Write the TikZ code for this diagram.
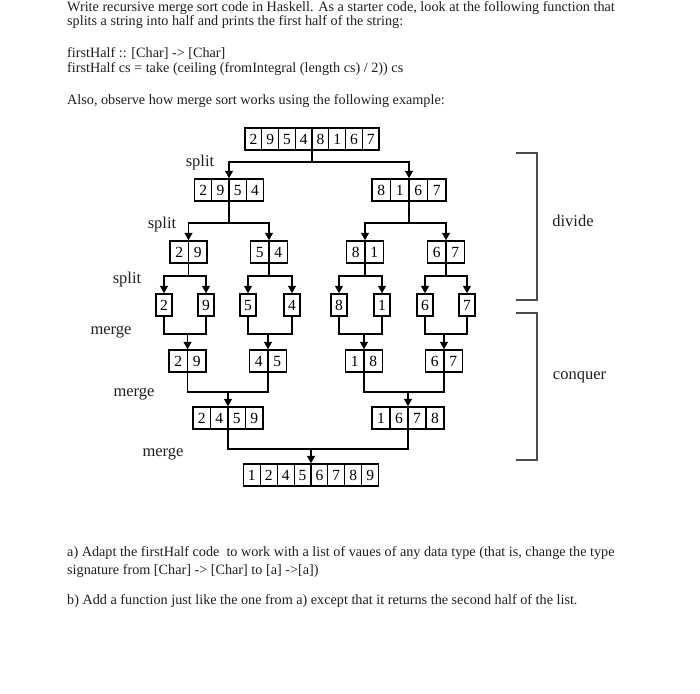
\documentclass[tikz,border=0pt]{standalone}
\usepackage{fontspec}
\setmainfont{Liberation Serif}
\usetikzlibrary{arrows.meta,fit}
\newcommand\lbox[6]{%
  \foreach \d [count=\i] in {#6}{%
    \node[cell, minimum width=#4pt] (#1-\i) at ({#2+(\i-(#5+1)/2)*#4},{#3+11}) {\d};
  }%
  \node[fit=(#1-1)(#1-#5), inner sep=0pt] (#1) {};
}
\begin{document}
\begin{tikzpicture}[x=1pt,y=-1pt,
  txt/.style={inner sep=0pt, anchor=base west, text=black!88, font=\fontsize{14.2}{16}\selectfont},
  lbl/.style={inner sep=0pt, text=black!88, font=\fontsize{16.5}{18}\selectfont},
  cell/.style={draw, line width=1.1pt, minimum height=22pt, inner sep=0pt, font=\fontsize{15.5}{17}\selectfont},
  arr/.style={line width=1.3pt, -{Triangle[length=7.5pt,width=8pt]}},
  con/.style={line width=1.3pt},
  brk/.style={line width=1.8pt, draw=black!70}]
\useasboundingbox (0,0) rectangle (700,693);
\fill[white] (0,0) rectangle (700,693);

% text
\node[txt] (t1) at (67,11.5) {Write recursive merge sort code in Haskell. As a starter code, look at the following function that};
\node[txt] (t2) at (67,26) {splits a string into half and prints the first half of the string:};
\node[txt] (t3) at (67,57) {firstHalf :: [Char] -> [Char]};
\node[txt] (t4) at (67,72) {firstHalf cs = take (ceiling (fromIntegral (length cs) / 2)) cs};
\node[txt] (t5) at (67,104) {Also, observe how merge sort works using the following example:};
\node[txt] (t6) at (67,556) {a) Adapt the firstHalf code \ to work with a list of vaues of any data type (that is, change the type};
\node[txt] (t7) at (67,574) {signature from [Char] -> [Char] to [a] ->[a])};
\node[txt] (t8) at (67,604) {b) Add a function just like the one from a) except that it returns the second half of the list.};

% junction levels
\coordinate (j1) at (0,162);
\coordinate (j2) at (0,223);
\coordinate (j3) at (0,276);
\coordinate (j4) at (0,334);
\coordinate (j5) at (0,392);
\coordinate (j6) at (0,449);

% boxes
\lbox{r}{312}{128}{16.75}{8}{2,9,5,4,8,1,6,7}
\lbox{a}{229}{179}{17.25}{4}{2,9,5,4}
\lbox{b}{409}{179}{18.5}{4}{8,1,6,7}
\lbox{aa}{188.5}{241}{18.5}{2}{2,9}
\lbox{ab}{269}{241}{18.5}{2}{5,4}
\lbox{ba}{365}{241}{18.5}{2}{8,1}
\lbox{bb}{446}{241}{18.5}{2}{6,7}
\lbox{s1}{164}{294}{16}{1}{2}
\lbox{s2}{206}{294}{16}{1}{9}
\lbox{s3}{248}{294}{16}{1}{5}
\lbox{s4}{292}{294}{16}{1}{4}
\lbox{s5}{339}{294}{16}{1}{8}
\lbox{s6}{382}{294}{16}{1}{1}
\lbox{s7}{425}{294}{16}{1}{6}
\lbox{s8}{467}{294}{16}{1}{7}
\lbox{m1}{187.5}{350}{18.5}{2}{2,9}
\lbox{m2}{268}{350}{18.5}{2}{4,5}
\lbox{m3}{364}{350}{18.5}{2}{1,8}
\lbox{m4}{444}{350}{18.5}{2}{6,7}
\lbox{n1}{228}{407}{17.5}{4}{2,4,5,9}
\lbox{n2}{408}{407}{18}{4}{1,6,7,8}
\lbox{f}{311}{464}{16.9}{8}{1,2,4,5,6,7,8,9}

% split connectors
\draw[con] (r.south) -- (r.south |- j1);
\draw[arr] (r.south |- j1) -| (a.north);
\draw[arr] (r.south |- j1) -| (b.north);
\draw[con] (a.south) -- (a.south |- j2);
\draw[arr] (a.south |- j2) -| (aa.north);
\draw[arr] (a.south |- j2) -| (ab.north);
\draw[con] (b.south) -- (b.south |- j2);
\draw[arr] (b.south |- j2) -| (ba.north);
\draw[arr] (b.south |- j2) -| (bb.north);
\draw[con] (aa.south) -- (aa.south |- j3);
\draw[arr] (aa.south |- j3) -| (s1.north);
\draw[arr] (aa.south |- j3) -| (s2.north);
\draw[con] (ab.south) -- (ab.south |- j3);
\draw[arr] (ab.south |- j3) -| (s3.north);
\draw[arr] (ab.south |- j3) -| (s4.north);
\draw[con] (ba.south) -- (ba.south |- j3);
\draw[arr] (ba.south |- j3) -| (s5.north);
\draw[arr] (ba.south |- j3) -| (s6.north);
\draw[con] (bb.south) -- (bb.south |- j3);
\draw[arr] (bb.south |- j3) -| (s7.north);
\draw[arr] (bb.south |- j3) -| (s8.north);

% merge connectors
\draw[con] (s1.south) |- (s2.south |- j4) -- (s2.south);
\draw[arr] (m1.north |- j4) -- (m1.north);
\draw[con] (s3.south) |- (s4.south |- j4) -- (s4.south);
\draw[arr] (m2.north |- j4) -- (m2.north);
\draw[con] (s5.south) |- (s6.south |- j4) -- (s6.south);
\draw[arr] (m3.north |- j4) -- (m3.north);
\draw[con] (s7.south) |- (s8.south |- j4) -- (s8.south);
\draw[arr] (m4.north |- j4) -- (m4.north);
\draw[con] (m1.south) |- (m2.south |- j5) -- (m2.south);
\draw[arr] (n1.north |- j5) -- (n1.north);
\draw[con] (m3.south) |- (m4.south |- j5) -- (m4.south);
\draw[arr] (n2.north |- j5) -- (n2.north);
\draw[con] (n1.south) |- (n2.south |- j6) -- (n2.south);
\draw[arr] (f.north |- j6) -- (f.north);

% labels
\node[lbl] (sp1) at (200,163) {split};
\node[lbl] (sp2) at (162,225) {split};
\node[lbl] (sp3) at (127,280) {split};
\node[lbl] (mg1) at (111,332) {merge};
\node[lbl] (mg2) at (134,394) {merge};
\node[lbl] (mg3) at (163,454) {merge};
\node[lbl] (dv) at (573,221) {divide};
\node[lbl] (cq) at (579.5,377) {conquer};

% brackets
\draw[brk] (516,153) -- (537,153) -- (537,300) -- (516,300);
\draw[brk] (516,313) -- (537,313) -- (537,460) -- (516,460);
\end{tikzpicture}
\end{document}
